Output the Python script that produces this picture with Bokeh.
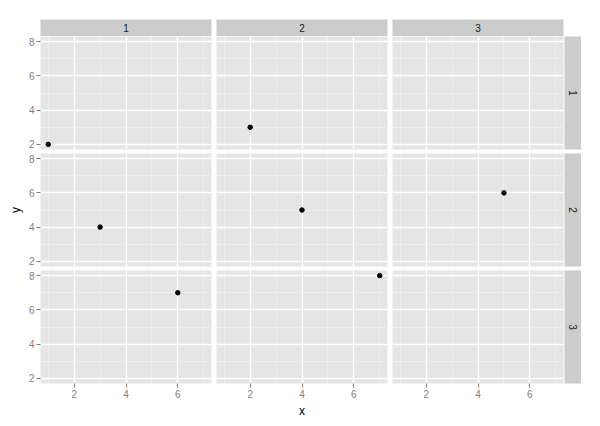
import math
from bokeh.plotting import figure
from bokeh.layouts import gridplot
from bokeh.models import Range1d, FactorRange, FixedTicker
from bokeh.core.properties import value
from bokeh.embed import file_html
from bokeh.resources import INLINE

# ---- data ----
x_vals = [1, 2, 3, 4, 5, 6, 7]
y_vals = [2, 3, 4, 5, 6, 7, 8]
row_facet = [1, 1, 2, 2, 2, 3, 3]
col_facet = [1, 2, 1, 2, 3, 1, 2]
facet_levels = [1, 2, 3]
x_ticks = [2, 4, 6]
x_minor = [1, 3, 5, 7]
y_ticks = [2, 4, 6, 8]
y_minor = [3, 5, 7]
x_label = "x"
y_label = "y"

# ---- style ----
FONT = "Liberation Sans"
PANEL_BG = "#E5E5E5"
STRIP_BG = "#CCCCCC"
GREY50 = "#7F7F7F"
FW, FH = 171, 113
STRIP_H = 17
STRIP_W = 17
LEFT = 40
TOP = 19
BOTTOM = 38


def expand(vals, mult=0.05):
    lo, hi = min(vals), max(vals)
    d = (hi - lo) * mult
    return lo - d, hi + d


x0, x1 = expand(x_vals)
y0, y1 = expand(y_vals)


def border_lr(c):
    left = LEFT if c == facet_levels[0] else 0
    right = 5 if c != facet_levels[-1] else 1
    return left, right


rows = []
# top strips
top = []
for c in facet_levels:
    bl, br = border_lr(c)
    lab = str(c)
    s = figure(frame_width=FW, frame_height=STRIP_H,
               x_range=FactorRange(factors=[lab]), y_range=FactorRange(factors=[lab]),
               x_axis_location=None, y_axis_location=None,
               min_border_left=bl, min_border_right=br, min_border_top=TOP, min_border_bottom=0,
               background_fill_color=STRIP_BG, outline_line_color=None,
               border_fill_color="white",
               output_backend="svg", toolbar_location=None)
    s.grid.visible = False
    s.text(x=[lab], y=[lab], text=[lab], text_align="center", text_baseline="middle",
           text_font=value(FONT), text_font_size="10px", text_color="#1A1A1A")
    top.append(s)
top.append(None)
rows.append(top)

for r in facet_levels:
    row = []
    bb = BOTTOM if r == facet_levels[-1] else 4
    for c in facet_levels:
        bl, br = border_lr(c)
        p = figure(frame_width=FW, frame_height=FH,
                   x_range=Range1d(x0, x1), y_range=Range1d(y0, y1),
                   x_axis_location="below" if r == facet_levels[-1] else None,
                   y_axis_location="left" if c == facet_levels[0] else None,
                   min_border_left=bl, min_border_right=br, min_border_top=0, min_border_bottom=bb,
                   background_fill_color=PANEL_BG, outline_line_color=None,
                   border_fill_color="white",
                   output_backend="svg", toolbar_location=None)
        p.xgrid.ticker = FixedTicker(ticks=x_ticks, minor_ticks=x_minor)
        p.ygrid.ticker = FixedTicker(ticks=y_ticks, minor_ticks=y_minor)
        for g in (p.xgrid, p.ygrid):
            g.grid_line_color = "white"
            g.grid_line_width = 1.3
            g.minor_grid_line_color = "#F2F2F2"
            g.minor_grid_line_width = 0.7
        axes = []
        if r == facet_levels[-1]:
            p.xaxis.ticker = FixedTicker(ticks=x_ticks)
            if c == facet_levels[1]:
                p.xaxis.axis_label = x_label
            axes += list(p.xaxis)
        if c == facet_levels[0]:
            p.yaxis.ticker = FixedTicker(ticks=y_ticks)
            if r == facet_levels[1]:
                p.yaxis.axis_label = y_label
            axes += list(p.yaxis)
        for ax in axes:
            ax.axis_line_color = None
            ax.major_tick_line_color = GREY50
            ax.major_tick_out = 4
            ax.major_tick_in = 0
            ax.minor_tick_line_color = None
            ax.major_label_text_color = GREY50
            ax.major_label_text_font = FONT
            ax.major_label_text_font_size = "10px"
            ax.major_label_standoff = 2
            ax.axis_label_text_font = FONT
            ax.axis_label_text_font_size = "12px"
            ax.axis_label_text_font_style = "normal"
            ax.axis_label_text_color = "black"
            ax.axis_label_standoff = 3
        xs = [xv for xv, rr, cc in zip(x_vals, row_facet, col_facet) if rr == r and cc == c]
        ys = [yv for yv, rr, cc in zip(y_vals, row_facet, col_facet) if rr == r and cc == c]
        if xs:
            p.scatter(xs, ys, size=4.5, color="black")
        row.append(p)
    # right strip
    lab = str(r)
    s = figure(frame_width=STRIP_W, frame_height=FH,
               x_range=FactorRange(factors=[lab]), y_range=FactorRange(factors=[lab]),
               x_axis_location=None, y_axis_location=None,
               min_border_left=0, min_border_right=0, min_border_top=0, min_border_bottom=bb,
               background_fill_color=STRIP_BG, outline_line_color=None,
               border_fill_color="white",
               output_backend="svg", toolbar_location=None)
    s.grid.visible = False
    s.text(x=[lab], y=[lab], text=[lab], angle=-math.pi / 2, text_align="center",
           text_baseline="middle", text_font=value(FONT), text_font_size="10px",
           text_color="#1A1A1A")
    row.append(s)
    rows.append(row)

grid = gridplot(rows, toolbar_location=None)

with open("out.html", "w") as f:
    f.write(file_html(grid, INLINE))
